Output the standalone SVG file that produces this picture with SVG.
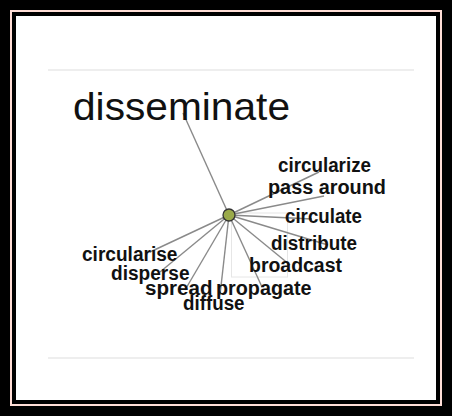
<svg xmlns="http://www.w3.org/2000/svg" width="452" height="416" viewBox="0 0 452 416">
<style>
.lbl{font-family:"Liberation Sans",Arial,sans-serif;font-weight:bold;font-size:19.5px;fill:#111}
.big{font-family:"Liberation Sans",Arial,sans-serif;font-size:39px;fill:#111}
.edge{stroke:#8a8a8a;stroke-width:1.4;fill:none}
.rule{stroke:#e8e8e8;stroke-width:1.5}
</style>
<rect x="0" y="0" width="452" height="416" fill="#000"/>
<rect x="11" y="11" width="430" height="394" fill="none" stroke="#ffddd6" stroke-width="2"/>
<rect x="16" y="16" width="420" height="384" fill="#fff"/>
<line class="rule" x1="48" y1="70" x2="414" y2="70"/>
<line class="rule" x1="48" y1="358" x2="414" y2="358"/>
<rect x="231.5" y="213" width="56" height="64" fill="none" stroke="#e6e6e6" stroke-width="1"/>
<g id="connectors">
<line class="edge" x1="229" y1="215" x2="183" y2="113"/>
<line class="edge" x1="229" y1="215" x2="319" y2="172"/>
<line class="edge" x1="229" y1="215" x2="324" y2="196"/>
<line class="edge" x1="229" y1="215" x2="312" y2="219"/>
<line class="edge" x1="229" y1="215" x2="328" y2="245"/>
<line class="edge" x1="229" y1="215" x2="290" y2="265"/>
<line class="edge" x1="229" y1="215" x2="262" y2="287"/>
<line class="edge" x1="229" y1="215" x2="220" y2="295"/>
<line class="edge" x1="229" y1="215" x2="185" y2="290"/>
<line class="edge" x1="229" y1="215" x2="160" y2="272"/>
<line class="edge" x1="229" y1="215" x2="150" y2="252"/>
</g>
<g id="hub"><circle cx="229" cy="215" r="6" fill="#9aaa4a" stroke="#333" stroke-width="1.3"/></g>
<g id="disseminate"><text class="big" x="73" y="120" textLength="217" lengthAdjust="spacingAndGlyphs">disseminate</text></g>
<g id="circularize"><text class="lbl" x="278" y="172" textLength="93" lengthAdjust="spacingAndGlyphs">circularize</text></g>
<g id="pass-around"><text class="lbl" x="268" y="193.5" textLength="118" lengthAdjust="spacingAndGlyphs">pass around</text></g>
<g id="circulate"><text class="lbl" x="285" y="222.5" textLength="77" lengthAdjust="spacingAndGlyphs">circulate</text></g>
<g id="distribute"><text class="lbl" x="271" y="250" textLength="86" lengthAdjust="spacingAndGlyphs">distribute</text></g>
<g id="broadcast"><text class="lbl" x="249" y="271.5" textLength="93" lengthAdjust="spacingAndGlyphs">broadcast</text></g>
<g id="circularise"><text class="lbl" x="82" y="261" textLength="95.5" lengthAdjust="spacingAndGlyphs">circularise</text></g>
<g id="disperse"><text class="lbl" x="111" y="280" textLength="78.5" lengthAdjust="spacingAndGlyphs">disperse</text></g>
<g id="spread"><text class="lbl" x="145" y="295" textLength="67.5" lengthAdjust="spacingAndGlyphs">spread</text></g>
<g id="propagate"><text class="lbl" x="216" y="295" textLength="95.5" lengthAdjust="spacingAndGlyphs">propagate</text></g>
<g id="diffuse"><text class="lbl" x="183" y="309.5" textLength="61.5" lengthAdjust="spacingAndGlyphs">diffuse</text></g>
</svg>
